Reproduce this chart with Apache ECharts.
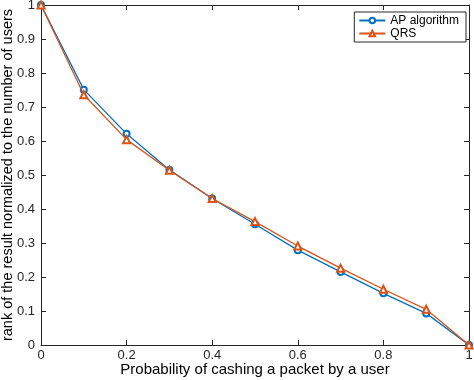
<!DOCTYPE html>
<html><head><meta charset="utf-8">
<script src="https://cdn.jsdelivr.net/npm/echarts@6/dist/echarts.min.js"></script>
<style>html,body{margin:0;padding:0;background:#fff}#c{width:474px;height:380px}</style>
</head><body><div id="c"></div>
<script>
const probabilities = [0, 0.1, 0.2, 0.3, 0.4, 0.5, 0.6, 0.7, 0.8, 0.9, 1];
const apAlgorithm = [1, 0.751, 0.621, 0.515, 0.431, 0.355, 0.279, 0.215, 0.152, 0.093, 0];
const qrs = [1, 0.736, 0.604, 0.514, 0.431, 0.363, 0.291, 0.226, 0.164, 0.105, 0];
const seriesNames = ['AP algorithm', 'QRS'];
const xLabel = 'Probability of cashing a packet by a user';
const yLabel = 'rank of the result normalized to the number of users';

const pair = (xs, ys) => xs.map((x, i) => [x, ys[i]]);
const font = 'Liberation Sans, Arial, Helvetica, sans-serif';
const axisCol = '#262626';
const baseAxis = {
  type: 'value', min: 0, max: 1,
  splitLine: { show: false },
  axisLine: { show: true, onZero: false, lineStyle: { color: axisCol, width: 1 } },
  axisTick: { show: true, inside: true, length: 5, lineStyle: { color: axisCol } },
};
const chart = echarts.init(document.getElementById('c'), null, { renderer: 'canvas' });
chart.setOption({
  animation: false,
  backgroundColor: '#fff',
  grid: { left: 41, right: 5, top: 5, bottom: 35, containLabel: false, outerBoundsMode: 'none' },
  legend: {
    right: 8, top: 12, orient: 'vertical',
    backgroundColor: '#fff', borderColor: axisCol, borderWidth: 1, borderRadius: 0,
    padding: [2, 7, 2, 4], itemGap: 0, itemWidth: 26, itemHeight: 7,
    textStyle: { fontFamily: font, fontSize: 12, color: '#000', lineHeight: 13 },
    data: seriesNames
  },
  xAxis: [
    Object.assign({}, baseAxis, {
      position: 'bottom', interval: 0.2,
      axisLabel: { color: axisCol, fontFamily: font, fontSize: 13, margin: 4 },
      name: xLabel, nameLocation: 'middle', nameGap: 17, nameMoveOverlap: false,
      nameTextStyle: { color: '#000', fontFamily: font, fontSize: 15 }
    }),
    Object.assign({}, baseAxis, { position: 'top', interval: 0.2, axisLabel: { show: false } })
  ],
  yAxis: [
    Object.assign({}, baseAxis, {
      position: 'left', interval: 0.1,
      axisLabel: { color: axisCol, fontFamily: font, fontSize: 13, margin: 6 },
      name: yLabel, nameLocation: 'middle', nameGap: 26, nameMoveOverlap: false,
      nameTextStyle: { color: '#000', fontFamily: font, fontSize: 14.5 }
    }),
    Object.assign({}, baseAxis, { position: 'right', interval: 0.1, axisLabel: { show: false } })
  ],
  series: [
    {
      name: seriesNames[0], type: 'line', xAxisIndex: 0, yAxisIndex: 0,
      data: pair(probabilities, apAlgorithm),
      symbol: 'emptyCircle', symbolSize: 6,
      lineStyle: { color: '#0072BD', width: 1.3 },
      itemStyle: { color: '#0072BD', borderWidth: 1.2 },
      z: 3
    },
    {
      name: seriesNames[1], type: 'line', xAxisIndex: 0, yAxisIndex: 0,
      data: pair(probabilities, qrs),
      symbol: 'emptyTriangle', symbolSize: 7,
      lineStyle: { color: '#D95319', width: 1.3 },
      itemStyle: { color: '#D95319', borderWidth: 1.2 },
      z: 4
    }
  ]
});
</script></body></html>
